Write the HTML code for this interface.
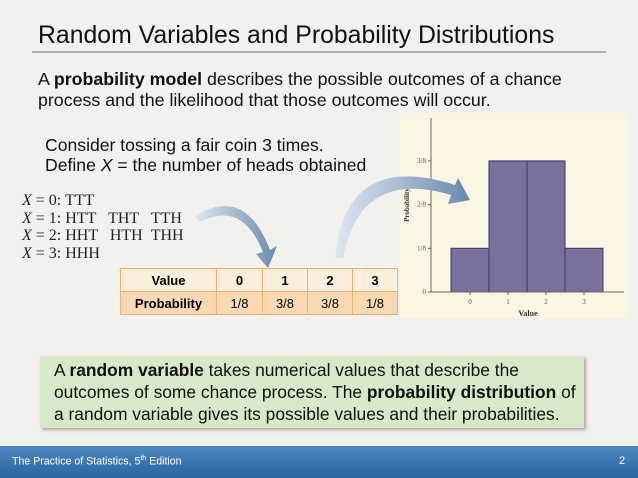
<!DOCTYPE html>
<html><head><meta charset="utf-8"><style>
body{margin:0;width:638px;height:478px;overflow:hidden;background:#f3f1ed;font-family:"Liberation Sans",sans-serif;position:relative}
.a{position:absolute;white-space:nowrap}
.ser{font-family:"Liberation Serif",serif;font-size:16px;line-height:17.5px;color:#222}
table{border-collapse:collapse;position:absolute;left:120px;top:268px;font-size:13px}
td{border:1.5px solid #f2b16a;text-align:center;height:22px;padding:0}
</style></head><body>
<div class="a" style="left:38px;top:22px;font-size:24.8px;color:#111">Random Variables and Probability Distributions</div>
<div class="a" style="left:32px;top:51px;width:574px;height:2px;background:#9ab4c8"></div>
<div class="a" style="left:38px;top:69px;font-size:17.8px;line-height:21px;color:#111">A <b>probability model</b> describes the possible outcomes of a chance<br>process and the likelihood that those outcomes will occur.</div>
<div class="a" style="left:45px;top:135px;font-size:17.6px;line-height:20px;color:#111">Consider tossing a fair coin 3 times.<br>Define <i>X</i> = the number of heads obtained</div>
<div class="a ser" style="left:22px;top:192px"><i>X</i> = 0: TTT<br><i>X</i> = 1: HTT &nbsp;&nbsp;THT &nbsp;&nbsp;TTH<br><i>X</i> = 2: HHT &nbsp;&nbsp;HTH &nbsp;THH<br><i>X</i> = 3: HHH</div>
<table>
<tr style="background:#fbeedd;font-weight:bold"><td style="width:95px">Value</td><td style="width:45px">0</td><td style="width:44px">1</td><td style="width:44px">2</td><td style="width:44px">3</td></tr>
<tr style="background:#f8d9b3"><td style="font-weight:bold">Probability</td><td>1/8</td><td>3/8</td><td>3/8</td><td>1/8</td></tr>
</table>
<svg class="a" style="left:0;top:0" width="638" height="478">
<defs><linearGradient id="ag" x1="0" x2="1"><stop offset="0" stop-color="#dfe8f2"/><stop offset="1" stop-color="#6a88ad"/></linearGradient></defs>
<rect x="400" y="113" width="228" height="205" fill="#fbf5e4"/>
<g id="bars"></g>
<g id="axes" stroke="#666" stroke-width="1" fill="none"></g>
<g id="labels" font-family="Liberation Serif,serif" font-size="7" fill="#555"></g>
<text x="528" y="316" font-family="Liberation Serif,serif" font-size="8" font-weight="bold" fill="#333" text-anchor="middle">Value</text>
<text transform="translate(409,205) rotate(-90)" font-family="Liberation Serif,serif" font-size="7" font-weight="bold" fill="#333" text-anchor="middle">Probability</text>
<path d="M195 216 Q245 185 270 250 L277 246 L268 268 L256 254 L263 252 Q242 200 200 222 Z" fill="url(#ag)"/>
<path d="M335 258 Q345 150 455 185 L458 178 L470 200 L448 204 L451 195 Q360 168 343 258 Z" fill="url(#ag)"/>
</svg>
<div class="a" style="left:40px;top:356px;width:544px;height:72px;background:#d6e9c8;box-shadow:2px 2px 3px rgba(0,0,0,.3)"></div>
<div class="a" style="left:54px;top:359px;font-size:17.4px;line-height:22px;color:#111">A <b>random variable</b> takes numerical values that describe the<br>outcomes of some chance process. The <b>probability distribution</b> of<br>a random variable gives its possible values and their probabilities.</div>
<div class="a" style="left:0;top:446px;width:638px;height:32px;background:linear-gradient(#4d88c0,#2a64a2)"></div>
<div class="a" style="left:12px;top:455px;font-size:10.6px;color:#fff">The Practice of Statistics, 5<sup style="font-size:7px">th</sup> Edition</div>
<div class="a" style="left:619px;top:455px;font-size:11px;color:#fff">2</div>
<script>
const categories=["0","1","2","3"];
const probs=[1/8,3/8,3/8,1/8];
const yTicks=[0,1/8,2/8,3/8];
const yTickLabels=["0","1/8","2/8","3/8"];
const NS="http://www.w3.org/2000/svg";
const x0=451,bw=38,yBase=292,yScale=43.7*8;
const xs=i=>x0+i*bw, ys=v=>yBase-v*yScale;
const bars=document.getElementById('bars'),axes=document.getElementById('axes'),labels=document.getElementById('labels');
function mk(t,a,p){const e=document.createElementNS(NS,t);for(const k in a)e.setAttribute(k,a[k]);p.appendChild(e);return e;}
probs.forEach((p,i)=>{const r=mk('rect',{x:xs(i),y:ys(p),width:bw,height:yBase-ys(p),fill:'#7b6f9e',stroke:'#3e3760','stroke-width':1},bars);


const t=mk('text',{x:xs(i)+bw/2,y:yBase+12,'text-anchor':'middle'},labels);t.textContent=categories[i];


mk('line',{x1:xs(i)+bw/2,x2:xs(i)+bw/2,y1:yBase,y2:yBase+3},axes);});
mk('line',{x1:431,x2:624,y1:yBase,y2:yBase},axes);
mk('line',{x1:431,x2:431,y1:118,y2:yBase},axes);
yTicks.forEach((v,i)=>{mk('line',{x1:428,x2:431,y1:ys(v),y2:ys(v)},axes);
const t=mk('text',{x:426,y:ys(v)+2,'text-anchor':'end'},labels);t.textContent=yTickLabels[i];

});
</script>
</body></html>
